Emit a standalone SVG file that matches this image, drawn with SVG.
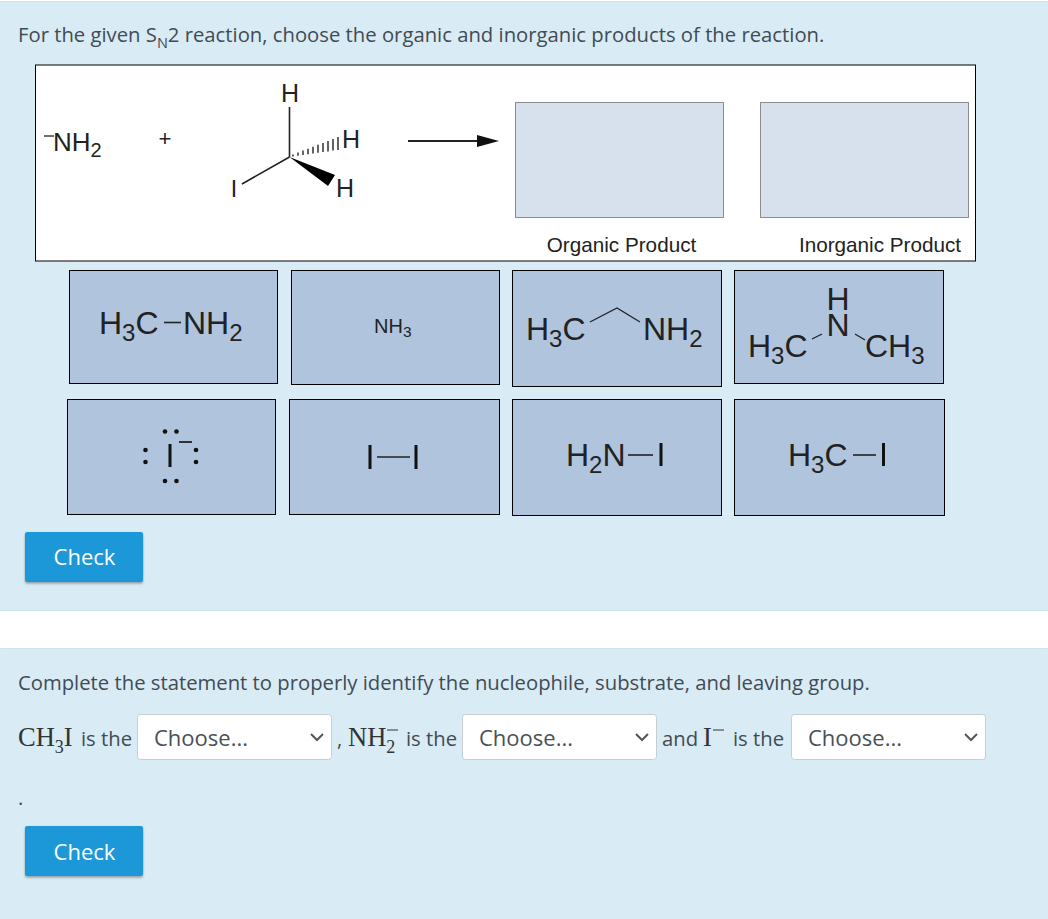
<svg xmlns="http://www.w3.org/2000/svg" width="1048" height="919" viewBox="0 0 1048 919">
<style>
.ui{font-family:"Open Sans","Noto Sans",sans-serif;font-size:20.27px;fill:#424b54}
.opt{font-family:"Open Sans","Noto Sans",sans-serif;font-size:22px;fill:#495057}
.chem{font-family:"Liberation Sans",Arial,sans-serif;font-size:32px;fill:#222}
.sub{font-size:24px}
.lbl{font-size:25px}
.cap{font-size:20.7px}
.math{font-family:"Liberation Serif","Times New Roman",serif;font-size:26.500px;fill:#333}
.msub{font-size:18px}
.panel{fill:#d9ebf5;stroke:#cfe3ef;stroke-width:1}
.tile{fill:#b0c4de;stroke:#000;stroke-width:1}
.drop{fill:#d6e1ed;stroke:#8c8c8c;stroke-width:1}
.btn{fill:#1b98d9}
.btnt{font-family:"Open Sans","Noto Sans",sans-serif;font-size:22px;fill:#fff;text-anchor:middle}
.sel{fill:#fff;stroke:#c9cdd0;stroke-width:1}
.bond{stroke:#222;stroke-width:1.6;fill:none}
.thin{stroke-width:1.300}
.ibar{stroke:#111;stroke-width:3;fill:none}
.bar{stroke:#333;stroke-width:1;fill:none}
.chev{stroke:#555;stroke-width:2;fill:none}
.mid{text-anchor:middle}
</style>
<defs>
<filter id="sh" x="-10%" y="-10%" width="120%" height="130%"><feDropShadow dx="0" dy="1.5" stdDeviation="1.2" flood-color="#000" flood-opacity=".35"/></filter>
</defs>
<rect width="1048" height="919" fill="#fff"/>
<rect class="panel" x="-2" y="1.500" width="1052" height="609" rx="3"/>
<rect class="panel" x="-2" y="648.500" width="1052" height="274" rx="3"/>
<text class="ui" x="18" y="42">For the given S<tspan font-size="14.500" dy="6">N</tspan><tspan dy="-6">2 reaction, choose the organic and inorganic products of the reaction.</tspan></text>

<g id="reaction">
<rect x="35.500" y="65" width="940" height="196" fill="#fff" stroke="#000"/>
<g id="reactant-amide"><path class="bond thin" d="M44 136H54"/><text class="chem" x="53" y="151" style="font-size:26px">NH<tspan style="font-size:20px" dy="6">2</tspan></text></g>
<text class="chem mid" x="165" y="145.500" style="font-size:22px">+</text>
<g id="reactant-mei">
<text class="chem lbl mid" x="290" y="102">H</text>
<text class="chem lbl mid" x="351" y="148">H</text>
<text class="chem lbl mid" x="345" y="197">H</text>
<text class="chem lbl mid" x="234" y="197" style="font-size:23px">I</text>
<path class="bond" d="M289.500 107V157M289.500 157L242 184"/>
<path d="M289.500 157L335 175L328 186Z" fill="#000"/>
<path d="M293 154.500V156.500M298 152.600V155.800M303 150.600V155M308 148.700V154.300M313 146.800V153.600M318 144.800V152.800M323 142.900V152.100M328 141V151.400M333 139V150.600M338 137.100V149.900" stroke="#222" stroke-width="1.400" fill="none"/>
</g>
<g id="arrow"><path d="M408 141H482" stroke="#222" stroke-width="2"/><path d="M477 135L499 141L477 147Z" fill="#111"/></g>
<g id="slot-organic"><rect class="drop" x="515.500" y="102.500" width="208" height="115"/><text class="chem cap mid" x="621.500" y="252">Organic Product</text></g>
<g id="slot-inorganic"><rect class="drop" x="760.500" y="102.500" width="208" height="115"/><text class="chem cap mid" x="880" y="252">Inorganic Product</text></g>
</g>

<g id="tile-h3c-nh2"><rect class="tile" x="69.500" y="270.500" width="208" height="113"/>
<text class="chem" x="99" y="334">H<tspan class="sub" dy="7">3</tspan><tspan dy="-7">C</tspan></text><path class="bond" d="M164 322.500H181"/><text class="chem" x="183" y="334">NH<tspan class="sub" dy="7">2</tspan></text></g>

<g id="tile-nh3"><rect class="tile" x="291.500" y="270.500" width="208" height="114"/>
<text class="chem" x="374" y="333" style="font-size:20px">NH<tspan style="font-size:15.500px" dy="4">3</tspan></text></g>

<g id="tile-ethylamine"><rect class="tile" x="512.500" y="270.500" width="209" height="116"/>
<text class="chem" x="526" y="340">H<tspan class="sub" dy="7">3</tspan><tspan dy="-7">C</tspan></text><path class="bond thin" d="M590 322L617 308L640 322"/><text class="chem" x="643" y="340">NH<tspan class="sub" dy="7">2</tspan></text></g>

<g id="tile-dimethylamine"><rect class="tile" x="734.500" y="270.500" width="209" height="113"/>
<text class="chem mid"><tspan x="838" y="310">H</tspan><tspan x="838" y="336">N</tspan></text>
<text class="chem" x="748" y="357">H<tspan class="sub" dy="7">3</tspan><tspan dy="-7">C</tspan></text><text class="chem" x="865" y="357">CH<tspan class="sub" dy="7">3</tspan></text>
<path class="bond thin" d="M812 339L822 334M855 334L865 340"/></g>

<g id="tile-iodide"><rect class="tile" x="67.500" y="399.500" width="208" height="115"/>
<path class="ibar" d="M170 444V467"/><path d="M179 442H192" stroke="#222" stroke-width="1.800"/>
<g fill="#111"><circle cx="165" cy="431.500" r="2.300"/><circle cx="176.500" cy="431.500" r="2.300"/><circle cx="165" cy="481" r="2.300"/><circle cx="176.500" cy="481" r="2.300"/><circle cx="145.500" cy="450" r="2.300"/><circle cx="145.500" cy="462" r="2.300"/><circle cx="196" cy="450" r="2.300"/><circle cx="196" cy="462" r="2.300"/></g></g>

<g id="tile-i2"><rect class="tile" x="289.500" y="399.500" width="210" height="115"/>
<path class="ibar" d="M370 445V469M416 445V469"/><path class="bond" d="M377 457H410"/></g>

<g id="tile-h2n-i"><rect class="tile" x="512.500" y="399.500" width="209" height="116"/>
<text class="chem" x="566" y="466">H<tspan class="sub" dy="7">2</tspan><tspan dy="-7">N</tspan></text><path class="bond" d="M628 455H653"/><path class="ibar" d="M661 443V466"/></g>

<g id="tile-h3c-i"><rect class="tile" x="734.500" y="399.500" width="210" height="116"/>
<text class="chem" x="788" y="466">H<tspan class="sub" dy="7">3</tspan><tspan dy="-7">C</tspan></text><path class="bond" d="M853 455H876"/><path class="ibar" d="M883.500 443V466"/></g>

<g id="check-1"><rect class="btn" x="25" y="532" width="118" height="50" rx="2" filter="url(#sh)"/><text class="btnt" x="84.500" y="565">Check</text></g>

<text class="ui" x="18" y="690">Complete the statement to properly identify the nucleophile, substrate, and leaving group.</text>

<g id="statement">
<text class="math" x="18" y="746">CH<tspan class="msub" dy="7">3</tspan><tspan dy="-7">I</tspan></text>
<text class="ui" x="81" y="746">is the</text>
<g id="select-1"><rect class="sel" x="137.500" y="714.500" width="194" height="45" rx="3"/><text class="opt" x="154" y="746">Choose...</text><path class="chev" d="M311 734L317 740L323 734"/></g>
<text class="ui" x="337" y="746">,</text>
<text class="math" x="348" y="746">NH<tspan class="msub" dy="7">2</tspan></text>
<path class="bar" d="M387 730H398"/>
<text class="ui" x="406" y="746">is the</text>
<g id="select-2"><rect class="sel" x="462.500" y="714.500" width="194" height="45" rx="3"/><text class="opt" x="479" y="746">Choose...</text><path class="chev" d="M636 734L642 740L648 734"/></g>
<text class="ui" x="662" y="746">and</text>
<text class="math" x="703" y="746">I</text>
<path class="bar" d="M713 730H724"/>
<text class="ui" x="733" y="746">is the</text>
<g id="select-3"><rect class="sel" x="791.500" y="714.500" width="194" height="45" rx="3"/><text class="opt" x="808" y="746">Choose...</text><path class="chev" d="M965 734L971 740L977 734"/></g>
<text class="ui" x="18" y="805">.</text>
</g>

<g id="check-2"><rect class="btn" x="25" y="826" width="118" height="50" rx="2" filter="url(#sh)"/><text class="btnt" x="84.500" y="859.500">Check</text></g>
</svg>
